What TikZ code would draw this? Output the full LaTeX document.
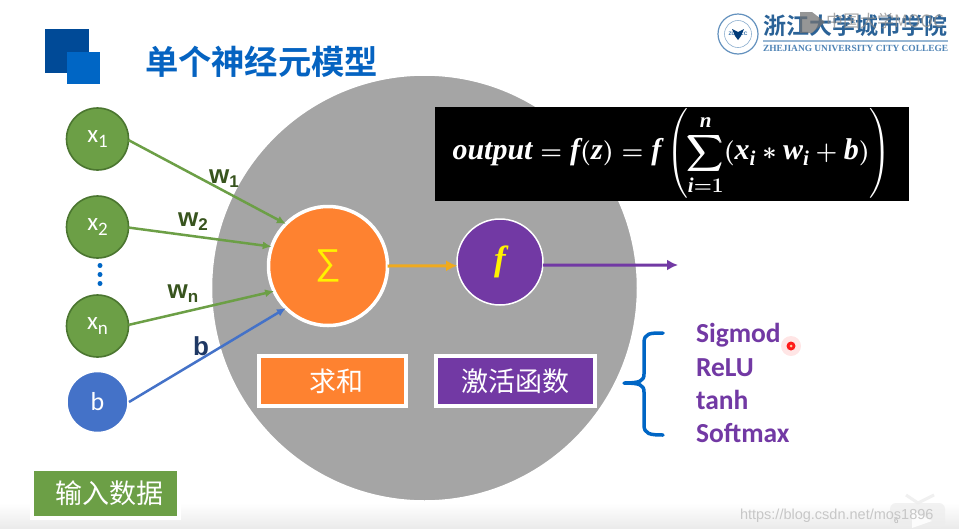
\documentclass[tikz,border=0pt]{standalone}
\usepackage{amsmath}
\usepackage{fontspec}
\usetikzlibrary{shadows,arrows.meta}
\setmainfont{Carlito}
\newfontfamily\cjk{Noto Sans CJK SC}
\newfontfamily\cjkb{Noto Sans CJK SC Bold}
\newfontfamily\arl{Liberation Sans}
\newfontfamily\serifr{Liberation Serif}
\newcommand{\fs}[1]{\fontsize{#1}{#1}\selectfont}
\newcommand{\bi}[1]{\text{\serifr\bfseries\itshape #1}}
\newcommand{\innode}[2]{\raisebox{-3pt}{\fs{25}#1\raisebox{-4.5pt}{\fs{19}#2}}}
\newcommand{\wlabel}[2]{{\arl\bfseries\fs{26}#1\raisebox{-4pt}{\fs{17}#2}}}
\definecolor{titleblue}{HTML}{0563C1}
\definecolor{darkblue}{HTML}{004A97}
\definecolor{midblue}{HTML}{0066C5}
\definecolor{ggreen}{HTML}{6C9F46}
\definecolor{ggreend}{HTML}{4B7630}
\definecolor{wgreen}{HTML}{38541E}
\definecolor{orangeF}{HTML}{FE8230}
\definecolor{amberL}{HTML}{F0AA1E}
\definecolor{purpleF}{HTML}{7239A4}
\definecolor{bblue}{HTML}{4472C8}
\definecolor{bdark}{HTML}{1F3864}
\definecolor{grayF}{HTML}{A5A5A5}
\definecolor{logoblue}{HTML}{2F6DA8}
\tikzset{
  x=1pt,y=-1pt,
  every node/.style={inner sep=0pt,outer sep=0pt},
  inputnode/.style={circle,minimum size=62pt,fill=ggreen,draw=ggreend,line width=1.6pt,text=white},
  biasnode/.style={circle,minimum size=63pt,fill=bblue,draw=white,line width=3.5pt,text=white,drop shadow={shadow xshift=0.5pt,shadow yshift=-0.5pt,opacity=.35}},
  sumnode/.style={circle,minimum size=119pt,fill=orangeF,draw=white,line width=3.5pt,drop shadow={shadow xshift=0.5pt,shadow yshift=-0.5pt,opacity=.3}},
  fnode/.style={circle,minimum size=86pt,fill=purpleF,draw=white,line width=1.5pt,drop shadow={shadow xshift=0.5pt,shadow yshift=-0.5pt,opacity=.3}},
  capbox/.style={draw=white,line width=4pt,text=white,font=\cjk\fs{27},drop shadow={shadow xshift=1pt,shadow yshift=-2pt,opacity=.5}},
  link/.style={line width=2.5pt,-{Latex[length=9pt,width=8pt]}},
  flow/.style={line width=3pt,-{Latex[length=11pt,width=11pt]}},
  wtext/.style={text=wgreen},
  listtext/.style={text=purpleF,font=\bfseries\fs{27.5},anchor=base west},
  dotmark/.style={circle,fill=midblue,minimum size=5pt},
  mark1/.style={text=black!22,font=\arl\fs{14.5}}
}
\begin{document}
\begin{tikzpicture}
\useasboundingbox (0,0) rectangle (959,528);
\fill[white] (0,0) rectangle (959,528);
\shade[top color=white,bottom color=black!8] (0,503) rectangle (959,528);

% big circle
\node[circle,minimum size=428pt,fill=grayF,draw=white,line width=3.5pt,drop shadow={shadow xshift=0.5pt,shadow yshift=-0.5pt,opacity=.12}] (cell) at (424.5,288) {};

% corner squares
\node[fill=darkblue,minimum width=44pt,minimum height=44pt] (sqa) at (67,51) {};
\node[fill=midblue,minimum width=33pt,minimum height=32pt] (sqb) at (83.5,68) {};
\node[text=titleblue,font=\cjkb\fs{33.3},anchor=west] (title) at (145,62) {单个神经元模型};

% logo
\node[circle,minimum size=40pt,draw=logoblue!75,line width=1.2pt,fill=white] (seal) at (738,34) {};
\node[circle,minimum size=27pt,draw=logoblue!55,line width=.6pt] (sealin) at (738,34) {};
\node[text=logoblue,font=\arl\bfseries\fs{5}] (sealt) at (738,34) {ZU\,\,\,\,\,\,CC};
\fill[darkblue!80!black] (732,29) -- (738,32) -- (744,29) -- (741,36) -- (738,40) -- (735,36) -- cycle;
\node[text=logoblue!90!black,font=\cjkb\fs{23},anchor=west] (logoa) at (763,26) {浙江大学城市学院};
\node[fill=logoblue!50,minimum width=185pt,minimum height=1.2pt,anchor=west] (logol) at (763,41) {};
\node[text=logoblue!85,font=\serifr\bfseries\fs{9.4},anchor=west] (logob) at (763,48) {ZHEJIANG UNIVERSITY CITY COLLEGE};
\fill[black!55,opacity=.75] (800,12) -- (812,12) -- (825,22) -- (812,33) -- (800,33) -- cycle;
\node[text=black!45,font=\cjk\fs{17},anchor=west,opacity=.75] (mooc) at (826,21) {中国大学MOOC};

% inputs
\node[inputnode] (x1) at (97.5,139) {\innode{x}{1}};
\node[inputnode] (x2) at (97.5,227) {\innode{x}{2}};
\node[inputnode] (xn) at (97.5,326) {\innode{x}{n}};
\node[biasnode] (bn) at (97.5,402) {\fs{26}b};
\node[dotmark] (d1) at (100,265.5) {};
\node[dotmark] (d2) at (100,274.5) {};
\node[dotmark] (d3) at (100,283.5) {};

% processing nodes
\node[sumnode] (sum) at (328,266) {\raisebox{-4pt}{\arl\fs{36}\textcolor{yellow}{∑}}};
\node[fnode] (fn) at (500,262) {\textcolor{yellow}{\serifr\bfseries\itshape\fs{35}f}};
\coordinate (out) at (678,265);

% connectors
\draw[link,ggreen] (x1.-2) -- (sum.135);
\draw[link,ggreen] (x2.-1) -- (sum.161);
\draw[link,ggreen] (xn.2) -- (sum.205);
\draw[link,bblue] (bn.0) -- (sum.225);
\draw[flow,amberL] (sum.east) -- (fn.185);
\draw[flow,purpleF] (fn.-4) -- (out);

% weights
\node[wtext] (w1) at (224,179) {\wlabel{w}{1}};
\node[wtext] (w2) at (193,222) {\wlabel{w}{2}};
\node[wtext] (wn) at (183,294) {\wlabel{w}{n}};
\node[text=bdark,font=\arl\bfseries\fs{26}] (wb) at (201,346) {b};

% formula
\node[fill=black,minimum width=474pt,minimum height=94pt,text=white] (formula) at (672,153.5)
  {{\fs{30}\boldmath$\displaystyle \bi{output}=\bi{f}(\bi{z})=\bi{f}\left(\mathop{\pmb{\sum}}_{\bi{i}=1}^{\bi{n}}(\bi{x}_{\bi{i}}*\bi{w}_{\bi{i}}+\bi{b})\right)$}};

% caption boxes
\node[capbox,fill=orangeF,minimum width=147pt,minimum height=50pt] (cap1) at (332.5,381) {\hspace*{8pt}求和};
\node[capbox,fill=purpleF,minimum width=159pt,minimum height=50pt] (cap2) at (515.5,381) {激活函数};
\node[capbox,fill=ggreen,minimum width=147pt,minimum height=49pt] (cap3) at (105.5,493.5) {\hspace*{8pt}输入数据};

% brace
\draw[midblue,line width=3.5pt,line cap=round,line join=round]
  (663,333) .. controls (650,333) and (644,333) .. (644,343)
  -- (644,374) .. controls (644,381) and (640,383) .. (624,383)
  .. controls (640,383) and (644,385) .. (644,392)
  -- (644,425) .. controls (644,434) and (650,435) .. (663,435);

% list
\node[listtext] (l1) at (696,342) {Sigmod};
\node[listtext] (l2) at (696,376) {ReLU};
\node[listtext] (l3) at (696,409) {tanh};
\node[listtext] (l4) at (696,442) {Softmax};

% pointer
\node[circle,minimum size=20pt,fill=red,opacity=.1] (lasera) at (791,346) {};
\node[circle,minimum size=9pt,fill=red!90] (laserb) at (791,346) {};
\node[circle,minimum size=3pt,fill=orange!40] (laserc) at (791,346) {};

% player overlay and watermark
\fill[black!7,opacity=.7,rounded corners=6pt] (890,528) -- (890,503) -- (945,503) -- (945,528) -- cycle;
\draw[black!7,line width=3pt,opacity=.8] (906,495) -- (918,503) -- (934,495);
\fill[white,opacity=.85] (912,510) -- (932,521) -- (912,528) -- cycle;
\node[text=black!30,font=\arl\fs{8},anchor=west] (pg) at (894,521) {6};
\node[mark1,anchor=west] (wm) at (740,516) {https://blog.csdn.net/mos1896};
\end{tikzpicture}
\end{document}
